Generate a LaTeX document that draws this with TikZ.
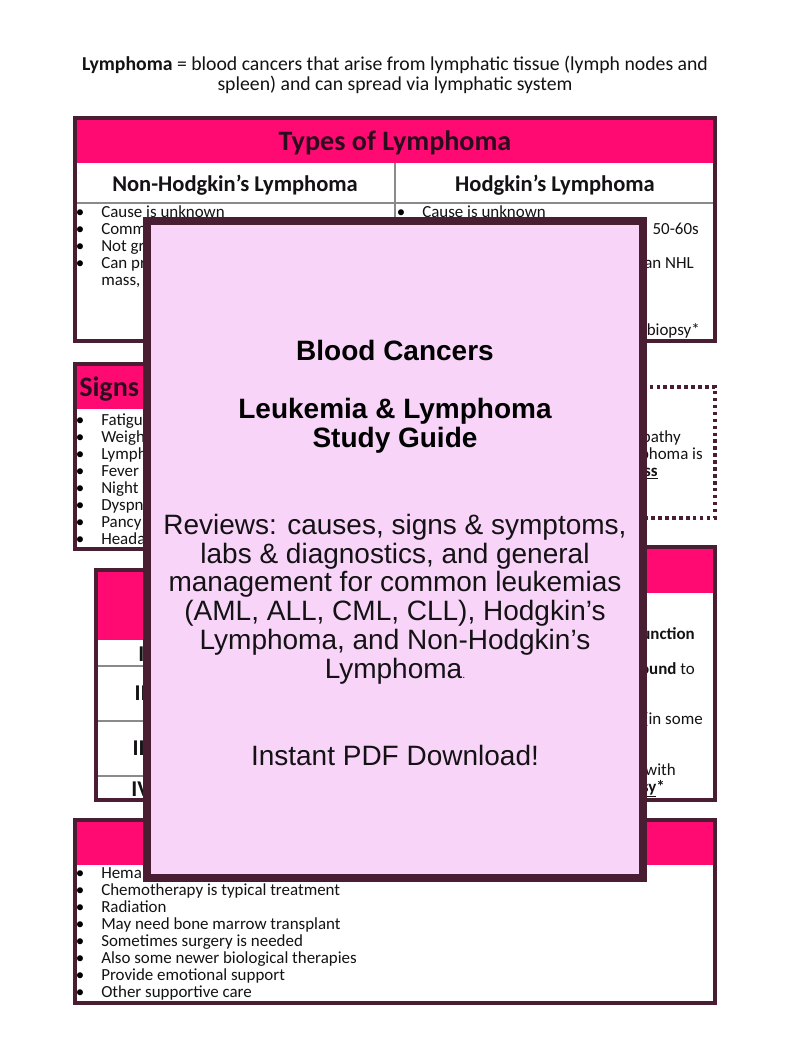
\documentclass[tikz,border=0pt]{standalone}
\usepackage{fontspec}
\setmainfont{Carlito}
\newfontfamily\ovfont{Liberation Sans}
\definecolor{hotpink}{HTML}{FF0A72}
\definecolor{frame}{HTML}{4A1E32}
\definecolor{lilac}{HTML}{F8D5F8}
\definecolor{ink}{HTML}{141214}
\definecolor{headink}{HTML}{2E0A1E}
\definecolor{rule}{HTML}{8A8A8A}
\tikzset{
  x=0.75pt,y=-0.75pt,
  panel/.style={draw=frame,line width=2.6pt,fill=white},
  band/.style={fill=hotpink},
  thin rule/.style={draw=rule,line width=0.8pt},
  bodytext/.style={font=\fontsize{12.7pt}{14pt}\selectfont,text=ink,inner sep=0pt,anchor=base west},
  bodyright/.style={bodytext,anchor=base east},
  boldbody/.style={bodyright,font=\bfseries\fontsize{12.7pt}{14pt}\selectfont},
  bul/.style={font=\fontsize{12.7pt}{14pt}\selectfont,text=black,inner sep=0pt,anchor=base},
  head/.style={font=\bfseries\fontsize{21.1pt}{24pt}\selectfont,text=headink,inner sep=0pt,anchor=base},
  subhead/.style={font=\bfseries\fontsize{16.9pt}{20pt}\selectfont,text=ink,inner sep=0pt,anchor=base},
  intro/.style={font=\fontsize{14.8pt}{18pt}\selectfont,text=ink,inner sep=0pt,anchor=base},
  ovtitle/.style={font=\ovfont\bfseries\fontsize{21pt}{24pt}\selectfont,text=black,inner sep=0pt,anchor=base},
  ovbody/.style={font=\ovfont\fontsize{21pt}{24pt}\selectfont,text=ink,inner sep=0pt,anchor=base},
}
\begin{document}
\begin{tikzpicture}
\useasboundingbox (0,0) rectangle (794,1046);
\fill[white] (0,0) rectangle (794,1046);
% intro
\node[intro] (intro1) at (395,70) {\textbf{Lymphoma} = blood cancers that arise from lymphatic tissue (lymph nodes and};
\node[intro] (intro2) at (395,90) {spleen) and can spread via lymphatic system};
% Types
\path[panel] (75,118) rectangle (715,341);
\fill[band] (76,118) rectangle (714,163);
\path[thin rule] (76,203) -- (714,203);
\path[thin rule] (395,163) -- (395,341);
\draw[draw=frame,line width=2.6pt] (75,118) rectangle (715,341);
\node[head] (typeshead) at (395,150) {Types of Lymphoma};
\node[subhead] (nhl) at (235,191) {Non-Hodgkin’s Lymphoma};
\node[subhead] (hl) at (555,191) {Hodgkin’s Lymphoma};
\foreach \t [count=\i] in {Cause is unknown,Comm,Not gr,Can pr}{
  \node[bul] (tb\i) at (80,{200+17*\i}) {•};
  \node[bodytext] (tt\i) at (101,{200+17*\i}) {\t};
}
\node[bodytext] (tt5) at (101,285) {mass,};
\node[bul] (hb1) at (401,217) {•};
\node[bodytext] (ht1) at (422,217) {Cause is unknown};
\node[bodyright] (ht2) at (699,234) {50-60s};
\node[bodyright] (ht3) at (694,268) {an NHL};
\node[bodyright] (ht4) at (700,335) {biopsy*};
% Signs
\path[panel] (75,364) rectangle (400,549);
\fill[band] (76,364) rectangle (400,409);
\draw[draw=frame,line width=2.6pt] (400,364) -- (75,364) -- (75,549) -- (400,549);
\node[head,anchor=base west] (signs) at (79,396) {Signs};
\foreach \t [count=\i] in {Fatigue,Weigh,Lymph,Fever,Night,Dyspn,Pancy,Heada}{
  \node[bul] (sb\i) at (80,{408+17*\i}) {•};
  \node[bodytext] (st\i) at (101,{408+17*\i}) {\t};
}
% dotted box
\draw[draw=frame,line width=2.6pt,dash pattern=on 2.6pt off 2.6pt] (400,387) -- (715,387) -- (715,518) -- (400,518);
\node[bodyright] (d1) at (681,442) {pathy};
\node[bodyright] (d2) at (703,459) {phoma is};
\node[boldbody] (d3) at (658,476) {\underline{ss}};
% Stages left
\path[panel] (96,570) rectangle (400,800);
\fill[band] (97,570) rectangle (400,640);
\path[thin rule] (97,666) -- (400,666);
\path[thin rule] (97,721) -- (400,721);
\path[thin rule] (97,776) -- (400,776);
\draw[draw=frame,line width=2.6pt] (400,570) -- (96,570) -- (96,800) -- (400,800);
\node[subhead,anchor=base east] (s1) at (144.6,661) {I};
\node[subhead,anchor=base east] (s2) at (147,700) {II};
\node[subhead,anchor=base east] (s3) at (145,755) {II};
\node[subhead,anchor=base east] (s4) at (151,796) {IV};
% Stages right
\path[panel] (400,547) -- (715,547) -- (715,800) -- (400,800);
\fill[band] (400,547) rectangle (714,593);
\draw[draw=frame,line width=2.6pt] (400,547) -- (715,547) -- (715,800) -- (400,800);
\node[boldbody] (r1) at (695,639) {unction};
\node[bodyright] (r2) at (695,674) {\textbf{ound} to};
\node[bodyright] (r3) at (703,724) {(in some};
\node[bodyright] (r4) at (676,775) {with};
\node[boldbody] (r5) at (665,792) {\underline{psy}*};
% Treatment
\path[panel] (75,820) rectangle (715,1003);
\fill[band] (76,820) rectangle (714,865);
\draw[draw=frame,line width=2.6pt] (75,820) rectangle (715,1003);
\foreach \t [count=\i] in {Hema,Chemotherapy is typical treatment,Radiation,May need bone marrow transplant,Sometimes surgery is needed,Also some newer biological therapies,Provide emotional support,Other supportive care}{
  \node[bul] (mb\i) at (80,{861+17*\i}) {•};
  \node[bodytext] (mt\i) at (101,{861+17*\i}) {\t};
}
% overlay
\path[draw=frame,line width=6pt,fill=lilac] (147,221) rectangle (643,878);
\node[ovtitle] (o1) at (395,360) {Blood Cancers};
\node[ovtitle] (o2) at (395,418) {Leukemia \& Lymphoma};
\node[ovtitle] (o3) at (395,447) {Study Guide};
\node[ovbody] (b1) at (395,534) {Reviews: causes, signs \& symptoms,};
\node[ovbody] (b2) at (395,563) {labs \& diagnostics, and general};
\node[ovbody] (b3) at (395,591) {management for common leukemias};
\node[ovbody] (b4) at (395,620) {(AML, ALL, CML, CLL), Hodgkin’s};
\node[ovbody] (b5) at (395,649) {Lymphoma, and Non-Hodgkin’s};
\node[ovbody] (b6) at (395,678) {Lymphoma{\fontsize{8pt}{10pt}\selectfont.}};
\node[ovbody] (b7) at (395,765) {Instant PDF Download!};
\end{tikzpicture}
\end{document}
